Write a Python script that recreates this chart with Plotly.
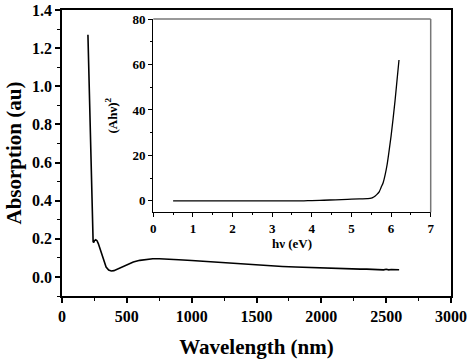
import plotly.graph_objects as go

# Main spectrum
wavelength = [200, 205, 210, 215, 220, 225, 230, 235, 240, 245, 250, 260, 270, 280, 290, 300,
              320, 340, 360, 380, 400, 430, 460, 500, 550, 600, 650, 700, 750, 800, 900,
              1000, 1100, 1200, 1300, 1400, 1500, 1600, 1700, 1800, 1900, 2000, 2100, 2200,
              2300, 2350, 2400, 2420, 2440, 2460, 2480, 2500, 2520, 2540, 2560, 2580, 2600]
absorption = [1.27, 1.12, 0.96, 0.80, 0.65, 0.49, 0.34, 0.22, 0.185, 0.18, 0.19, 0.195, 0.19,
              0.175, 0.155, 0.13, 0.085, 0.052, 0.036, 0.031, 0.033, 0.042, 0.053, 0.066,
              0.078, 0.087, 0.092, 0.095, 0.095, 0.094, 0.090, 0.086, 0.081, 0.076, 0.071,
              0.067, 0.063, 0.059, 0.055, 0.052, 0.049, 0.047, 0.045, 0.043, 0.041, 0.041,
              0.039, 0.041, 0.038, 0.040, 0.037, 0.040, 0.037, 0.039, 0.038, 0.039, 0.038]

# Inset Tauc plot
hv = [0.5, 1.0, 1.5, 2.0, 2.5, 3.0, 3.5, 3.8, 4.0, 4.3, 4.6, 4.9, 5.2, 5.4, 5.5, 5.55,
      5.6, 5.65, 5.7, 5.75, 5.8, 5.85, 5.9, 5.95, 6.0, 6.05, 6.1, 6.15, 6.2]
ahv2 = [0, 0, 0, 0, 0, 0, 0, 0.05, 0.15, 0.3, 0.5, 0.7, 0.9, 1.0, 1.2, 1.6,
        2.2, 3.0, 4.0, 6.0, 8.0, 11.5, 16, 22, 28.5, 36, 44, 53, 62]

# Tick labels
x_ticks = [0, 500, 1000, 1500, 2000, 2500, 3000]
y_ticks = [0.0, 0.2, 0.4, 0.6, 0.8, 1.0, 1.2, 1.4]
x2_ticks = [0, 1, 2, 3, 4, 5, 6, 7]
y2_ticks = [0, 20, 40, 60, 80]

FONT = "Liberation Serif"


def bold(vals, fmt):
    return ["<b>" + fmt.format(v) + "</b>" for v in vals]


fig = go.Figure()
fig.add_trace(go.Scatter(x=wavelength, y=absorption, mode="lines",
                         line=dict(color="black", width=1.6), xaxis="x", yaxis="y"))
fig.add_trace(go.Scatter(x=hv, y=ahv2, mode="lines", line_shape="spline",
                         line=dict(color="black", width=1.3), xaxis="x2", yaxis="y2"))

axis_common = dict(showgrid=False, zeroline=False, showline=True, linecolor="black",
                   ticks="outside", tickcolor="black", tickmode="array", automargin=False,
                   ticklabeloverflow="allow")

fig.update_layout(
    template="none",
    width=474, height=363,
    margin=dict(l=62, r=23, t=10, b=67, autoexpand=False),
    paper_bgcolor="white", plot_bgcolor="white",
    showlegend=False,
    font=dict(family=FONT, color="black", size=14),
    xaxis=dict(**axis_common, range=[0, 3000], tickvals=x_ticks, ticktext=bold(x_ticks, "{:d}"),
               linewidth=1.8, mirror=True, ticklen=5, tickwidth=1.5,
               minor=dict(dtick=250, tick0=0, ticks="outside", ticklen=3, tickcolor="black", tickwidth=1.2),
               tickfont=dict(family=FONT, size=16, color="black"),
               title=dict(text="<b>Wavelength (nm)</b>", font=dict(family=FONT, size=21, color="black"),
                          standoff=15)),
    yaxis=dict(**axis_common, range=[-0.1, 1.4], tickvals=y_ticks, ticktext=bold(y_ticks, "{:.1f}"),
               linewidth=1.8, mirror=True, ticklen=5, tickwidth=1.5,
               minor=dict(dtick=0.1, tick0=0, ticks="outside", ticklen=3, tickcolor="black", tickwidth=1.2),
               tickfont=dict(family=FONT, size=16, color="black"),
               title=dict(text="<b>Absorption (au)</b>", font=dict(family=FONT, size=21, color="black"),
                          standoff=5)),
    xaxis2=dict(**axis_common, domain=[0.2347, 0.9478], anchor="y2", range=[0, 7],
                tickvals=x2_ticks, ticktext=bold(x2_ticks, "{:d}"),
                linewidth=1.2, ticklen=4, tickwidth=1,
                minor=dict(dtick=0.5, tick0=0, ticks="outside", ticklen=2, tickcolor="black", tickwidth=1),
                tickfont=dict(family=FONT, size=13, color="black"),
                title=dict(text="<b>hν (eV)</b>", font=dict(family=FONT, size=13, color="black"),
                           standoff=3)),
    yaxis2=dict(**axis_common, domain=[0.2927, 0.9685], anchor="x2", range=[-5, 80],
                tickvals=y2_ticks, ticktext=bold(y2_ticks, "{:d}"),
                linewidth=1.2, ticklen=4, tickwidth=1,
                minor=dict(dtick=10, tick0=0, ticks="outside", ticklen=2, tickcolor="black", tickwidth=1),
                tickfont=dict(family=FONT, size=13, color="black"),
                title=dict(text="<b>(Ahν)<sup>2</sup></b>", font=dict(family=FONT, size=13, color="black"),
                           standoff=12)),
    shapes=[
        dict(type="line", xref="x2 domain", yref="y2 domain", x0=0, x1=1, y0=1, y1=1,
             line=dict(color="#777777", width=1.5)),
        dict(type="line", xref="x2 domain", yref="y2 domain", x0=1, x1=1, y0=0, y1=1,
             line=dict(color="#777777", width=1.5)),
    ],
)

# remove the page's default 8px body margin so the figure sits at the window origin
fig.write_html("out.html", config={"displayModeBar": False},
               post_script="document.body.style.margin='0';")
